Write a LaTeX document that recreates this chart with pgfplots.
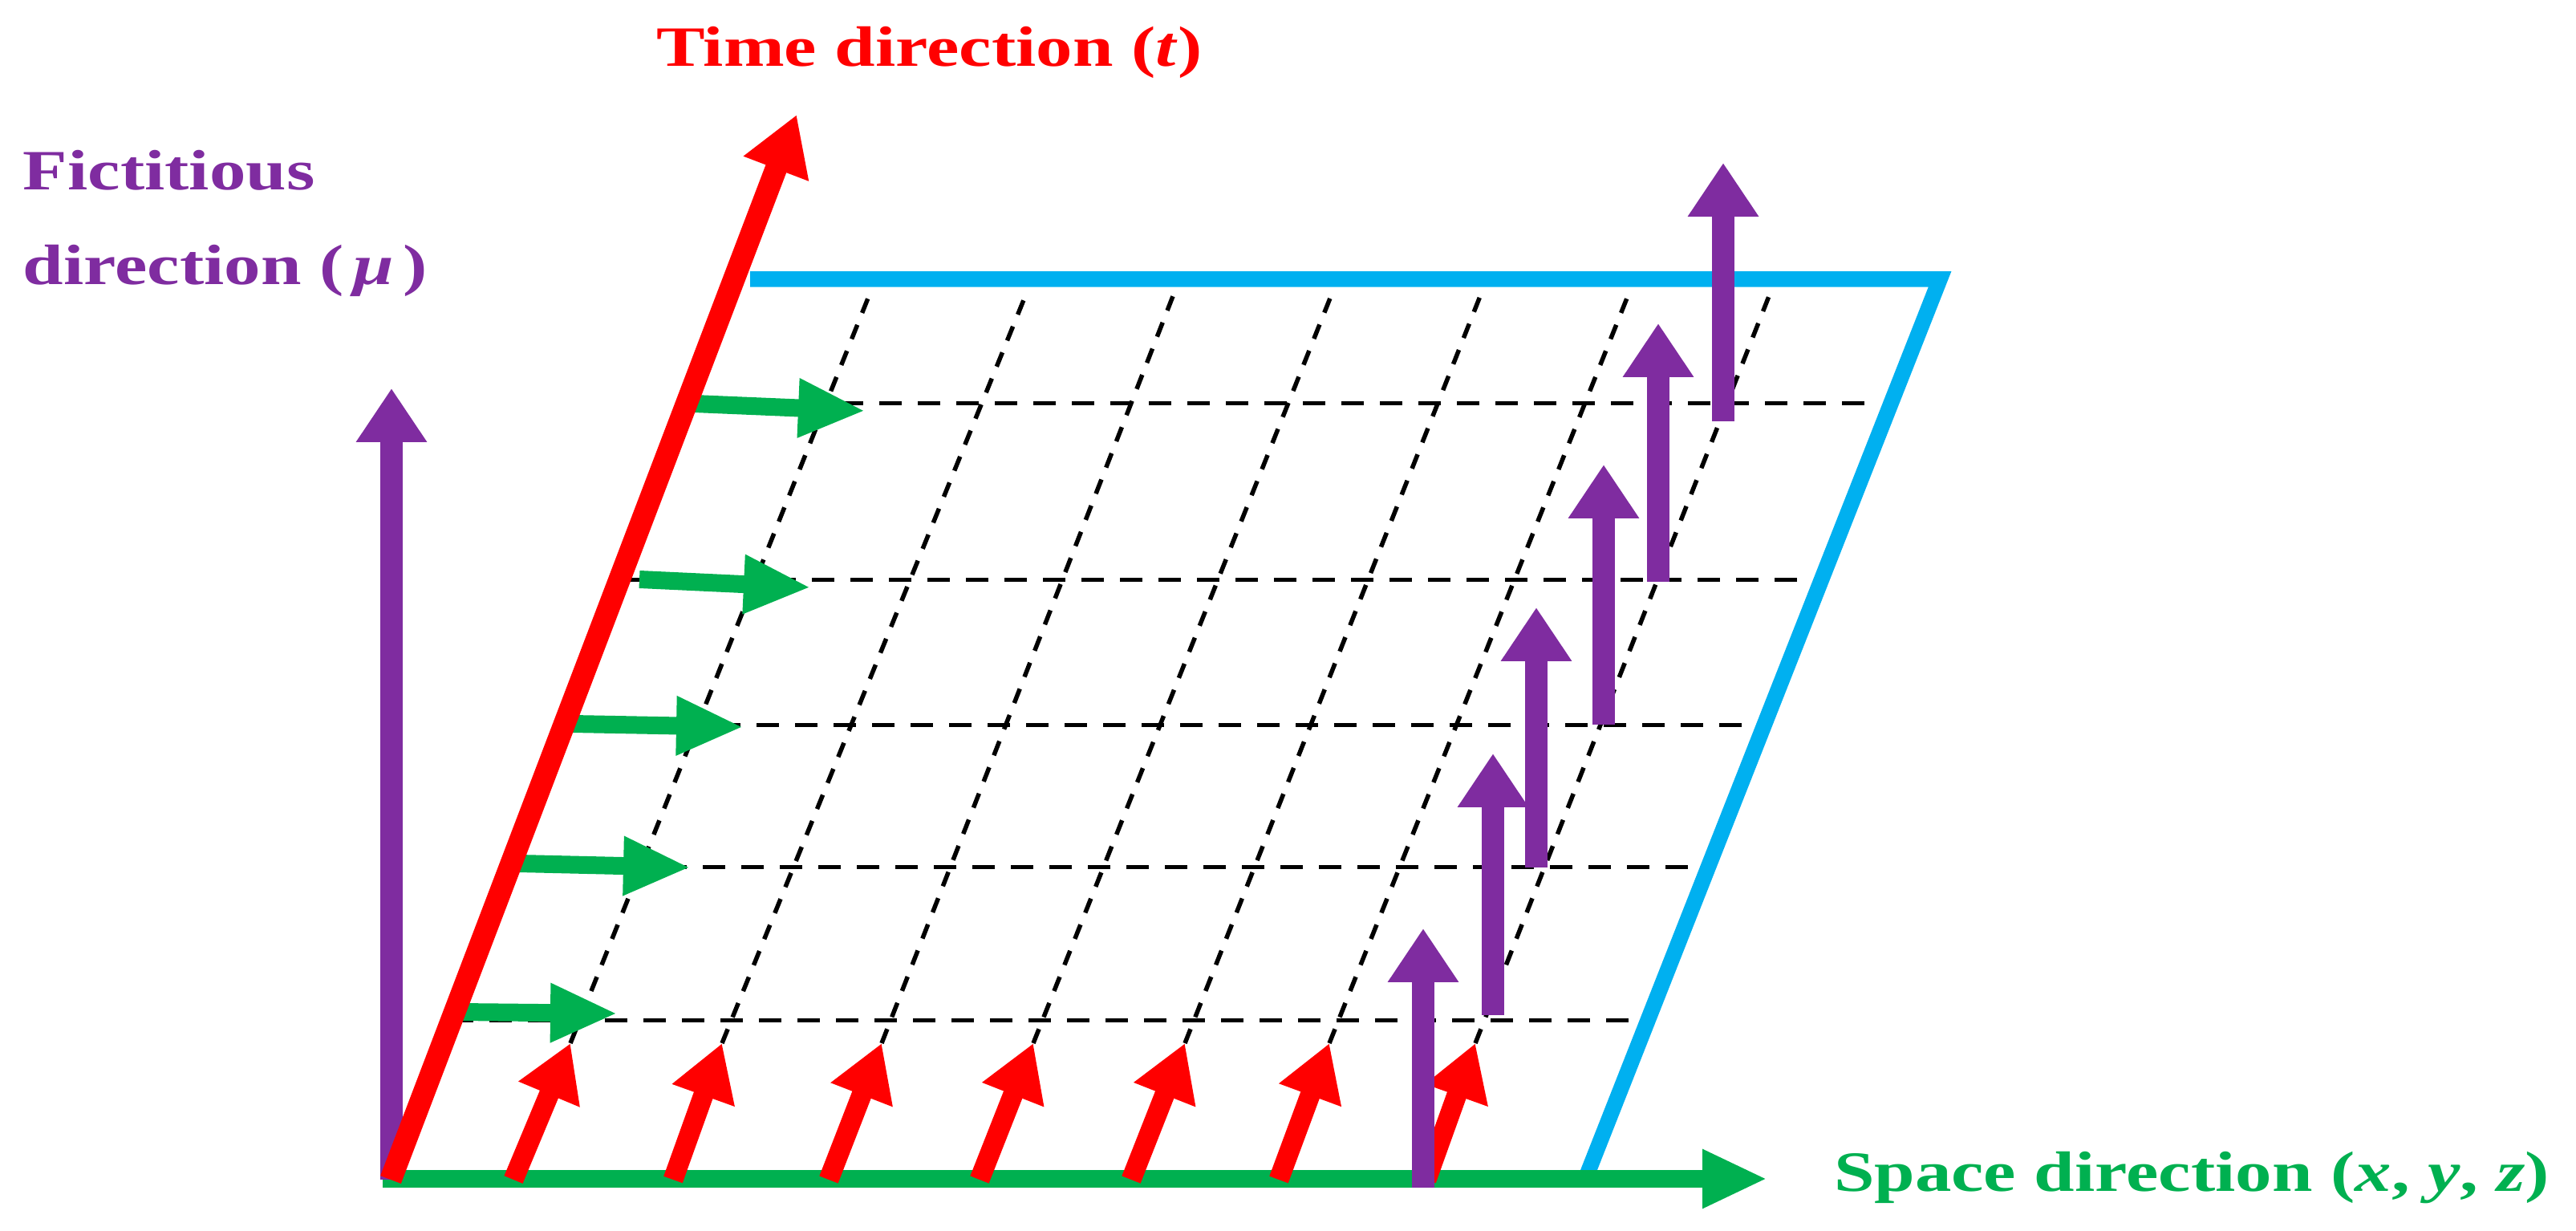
\documentclass[border=0pt]{standalone}
\usepackage{fontspec}
\setmainfont{Liberation Serif}[FakeStretch=1.28]
\usepackage{pgfplots}
\pgfplotsset{compat=1.18}
\usetikzlibrary{arrows.meta}
\definecolor{myred}{RGB}{255,0,0}
\definecolor{mygreen}{RGB}{0,176,80}
\definecolor{myblue}{RGB}{0,176,240}
\definecolor{mypurple}{RGB}{127,44,160}
\begin{document}
\begin{tikzpicture}
\useasboundingbox (0,0) rectangle (642.2pt,306.8pt);
\begin{axis}[
  at={(0,0)}, anchor=south west,
  scale only axis, width=642.2pt, height=306.8pt,
  xmin=0, xmax=3211, ymin=0, ymax=1534, y dir=reverse,
  hide axis, clip=false,
  hdash/.style={black, line width=1pt, dash pattern=on 5.6pt off 4pt},
  sdash/.style={black, line width=1.1pt, dash pattern=on 3.8pt off 3.2pt},
  redsmall/.style={myred, line width=5pt, -{Triangle[width=15.6pt,length=13.8pt]}},
  greensmall/.style={mygreen, line width=4.4pt, -{Triangle[width=13.6pt,length=16.8pt]}},
  purp/.style={mypurple, line width=5.6pt, -{Triangle[width=16.8pt,length=13.4pt]}},
  font=\fontsize{14.2pt}{17pt}\selectfont\bfseries,
]
% horizontal dashed grid lines
\addplot[hdash] coordinates {(562,1272) (2040,1272)};
\addplot[hdash] coordinates {(636,1081) (2123,1081)};
\addplot[hdash] coordinates {(703,904) (2172,904)};
\addplot[hdash] coordinates {(772,723) (2250,723)};
\addplot[hdash] coordinates {(856,503) (2342,503)};
% slanted dashed grid lines
\addplot[sdash] coordinates {(711,1300) (1085,364)};
\addplot[sdash] coordinates {(900,1300) (1280,364)};
\addplot[sdash] coordinates {(1099,1300) (1464,364)};
\addplot[sdash] coordinates {(1288,1300) (1661,364)};
\addplot[sdash] coordinates {(1477,1300) (1847,364)};
\addplot[sdash] coordinates {(1657,1300) (2031,364)};
\addplot[sdash] coordinates {(1839,1300) (2207,364)};
% blue boundary
\addplot[myblue, line width=3.9pt, line join=miter] coordinates {(935,348) (2418,348) (1975,1472)};
% space axis
\addplot[mygreen, line width=4.4pt, -{Triangle[width=13.6pt,length=16.2pt]}] coordinates {(477,1469) (2203,1469)};
% green small arrows
\addplot[greensmall] coordinates {(865,503) (1079,512)};
\addplot[greensmall] coordinates {(797,722) (1011,732)};
\addplot[greensmall] coordinates {(713,902) (927,906)};
\addplot[greensmall] coordinates {(646,1076) (861,1081)};
\addplot[greensmall] coordinates {(571,1261) (770,1263)};
% fictitious axis
\addplot[purp] coordinates {(488,1470) (488,484)};
% time axis
\addplot[myred, line width=5.5pt, -{Triangle[width=16.4pt,length=14.4pt]}] coordinates {(487,1470) (993,143)};
% red small arrows
\addplot[redsmall] coordinates {(640,1470) (711,1300)};
\addplot[redsmall] coordinates {(839,1470) (900,1300)};
\addplot[redsmall] coordinates {(1033,1470) (1099,1300)};
\addplot[redsmall] coordinates {(1221,1470) (1288,1300)};
\addplot[redsmall] coordinates {(1410,1470) (1477,1300)};
\addplot[redsmall] coordinates {(1594,1470) (1657,1300)};
\addplot[redsmall] coordinates {(1778,1470) (1839,1300)};
% purple staircase arrows
\addplot[purp] coordinates {(1774,1480) (1774,1157)};
\addplot[purp] coordinates {(1861,1265) (1861,939)};
\addplot[purp] coordinates {(1915,1081) (1915,757)};
\addplot[purp] coordinates {(1999,903) (1999,579)};
\addplot[purp] coordinates {(2067,725) (2067,403)};
\addplot[purp] coordinates {(2148,525) (2148,203)};
% labels
\node[anchor=base west, inner sep=0pt, text=myred] at (axis cs:817,83) {Time direction (\textit{t})};
\node[anchor=base west, inner sep=0pt, text=mypurple] at (axis cs:28,237) {Fictitious};
\node[anchor=base west, inner sep=0pt, text=mypurple] at (axis cs:28,355) {direction (\,\textit{μ}\,)};
\node[anchor=base west, inner sep=0pt, text=mygreen] at (axis cs:2285,1485) {Space direction (\textit{x}, \textit{y}, \textit{z})};
\end{axis}
\end{tikzpicture}
\end{document}
